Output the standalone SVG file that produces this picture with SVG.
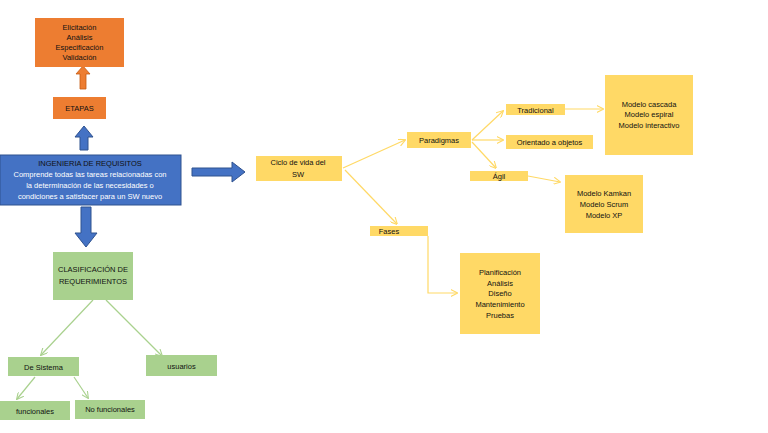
<svg xmlns="http://www.w3.org/2000/svg" width="768" height="433" viewBox="0 0 768 433">
<defs>
<style>
text{font-family:"Liberation Sans",Arial,sans-serif;font-size:7.5px;text-anchor:middle;fill:#111}
.o{fill:#ed7d31}.b{fill:#4472c4;stroke:#2f528f;stroke-width:1}.g{fill:#a9d18e}.y{fill:#ffd966}
.w{fill:#fff}
.yl{stroke:#ffd966;stroke-width:1.2;fill:none;marker-end:url(#ay)}
.gl{stroke:#a9d18e;stroke-width:1.2;fill:none;marker-end:url(#ag)}
</style>
<marker id="ay" viewBox="0 0 10 10" refX="9" refY="5" markerWidth="6" markerHeight="6" orient="auto"><path d="M0,0 L10,5 L0,10" fill="none" stroke="#ffd966" stroke-width="1.5"/></marker>
<marker id="ag" viewBox="0 0 10 10" refX="9" refY="5" markerWidth="6" markerHeight="6" orient="auto"><path d="M0,0 L10,5 L0,10" fill="none" stroke="#a9d18e" stroke-width="1.5"/></marker>
</defs>
<rect width="768" height="433" fill="#fff"/>
<g id="connectors">
<path d="M76,74 L83,66 L90,74 L86,74 L86,89 L80,89 L80,74Z" class="o" stroke="#c55a11" stroke-width="0.8"/>
<path d="M75,137 L84,126 L93,137 L88,137 L88,150 L80,150 L80,137Z" class="b"/>
<path d="M192,168 L232,168 L232,162 L245,172 L232,182 L232,176 L192,176Z" class="b"/>
<path d="M81,207 L91,207 L91,233 L97,233 L86,247 L75,233 L81,233Z" class="b"/>
<path class="gl" d="M93,300 L41,355"/>
<path class="gl" d="M106,300 L162,356"/>
<path class="gl" d="M35,377 L17,399"/>
<path class="gl" d="M74,377 L88,398"/>
<path class="yl" d="M343,168 L405,140"/>
<path class="yl" d="M345,170 L397,224"/>
<path class="yl" d="M472,140 L503,111"/>
<path class="yl" d="M472,140 L503,140"/>
<path class="yl" d="M472,142 L496,168"/>
<path class="yl" d="M565,109 L603,109"/>
<path class="yl" d="M528,176 L560,182"/>
<path class="yl" d="M428,236 L428,293 L457,293"/>
</g>
<g id="etapas-list"><rect class="o" x="35" y="18" width="89" height="49"/>
<text x="79.5" y="30">Elicitación</text><text x="79.5" y="40">Análisis</text><text x="79.5" y="50">Especificación</text><text x="79.5" y="60">Validación</text></g>
<g id="etapas"><rect class="o" x="53" y="97" width="53" height="22"/><text x="79.5" y="111">ETAPAS</text></g>
<g id="ingenieria"><rect class="b" x="0" y="155" width="181" height="50"/>
<text x="90" y="166" style="fill:#111">INGENIERIA DE REQUISITOS</text>
<text class="w" x="90" y="177">Comprende todas las tareas relacionadas con</text>
<text class="w" x="90" y="188">la determinación de las necesidades o</text>
<text class="w" x="90" y="199">condiciones a satisfacer para un SW nuevo</text></g>
<g id="clasificacion"><rect class="g" x="53" y="252" width="80" height="48"/><text x="93" y="272">CLASIFICACIÓN DE</text><text x="93" y="284">REQUERIMIENTOS</text></g>
<g id="desistema"><rect class="g" x="8" y="357" width="71" height="19"/><text x="43.5" y="369.5">De Sistema</text></g>
<g id="usuarios"><rect class="g" x="146" y="355" width="71" height="21"/><text x="181.5" y="368.5">usuarios</text></g>
<g id="funcionales"><rect class="g" x="0" y="401" width="70" height="19"/><text x="35" y="413.5">funcionales</text></g>
<g id="nofuncionales"><rect class="g" x="75" y="400" width="70" height="19"/><text x="110" y="412">No funcionales</text></g>
<g id="ciclo"><rect class="y" x="256" y="156" width="86" height="25"/><text x="298" y="165">Ciclo de vida del</text><text x="298" y="177">SW</text></g>
<g id="paradigmas"><rect class="y" x="407" y="132" width="64" height="16"/><text x="439" y="143">Paradigmas</text></g>
<g id="tradicional"><rect class="y" x="506" y="104" width="59" height="11"/><text x="535.5" y="112.5">Tradicional</text></g>
<g id="orientado"><rect class="y" x="506" y="135" width="87" height="14"/><text x="549.5" y="144.5">Orientado a objetos</text></g>
<g id="agil"><rect class="y" x="470" y="171" width="58" height="10"/><text x="499" y="179">Ágil</text></g>
<g id="modelos1"><rect class="y" x="605" y="75" width="88" height="80"/><text x="649" y="107">Modelo cascada</text><text x="649" y="117">Modelo espiral</text><text x="649" y="128">Modelo interactivo</text></g>
<g id="modelos2"><rect class="y" x="565" y="175" width="78" height="58"/><text x="604" y="196">Modelo Kamkan</text><text x="604" y="207">Modelo Scrum</text><text x="604" y="218">Modelo XP</text></g>
<g id="fases"><rect class="y" x="370" y="226" width="58" height="10"/><text x="389" y="234">Fases</text></g>
<g id="fases-list"><rect class="y" x="460" y="253" width="80" height="81"/><text x="500" y="275">Planificación</text><text x="500" y="286">Análisis</text><text x="500" y="296">Diseño</text><text x="500" y="307">Mantenimiento</text><text x="500" y="318">Pruebas</text></g>
</svg>
